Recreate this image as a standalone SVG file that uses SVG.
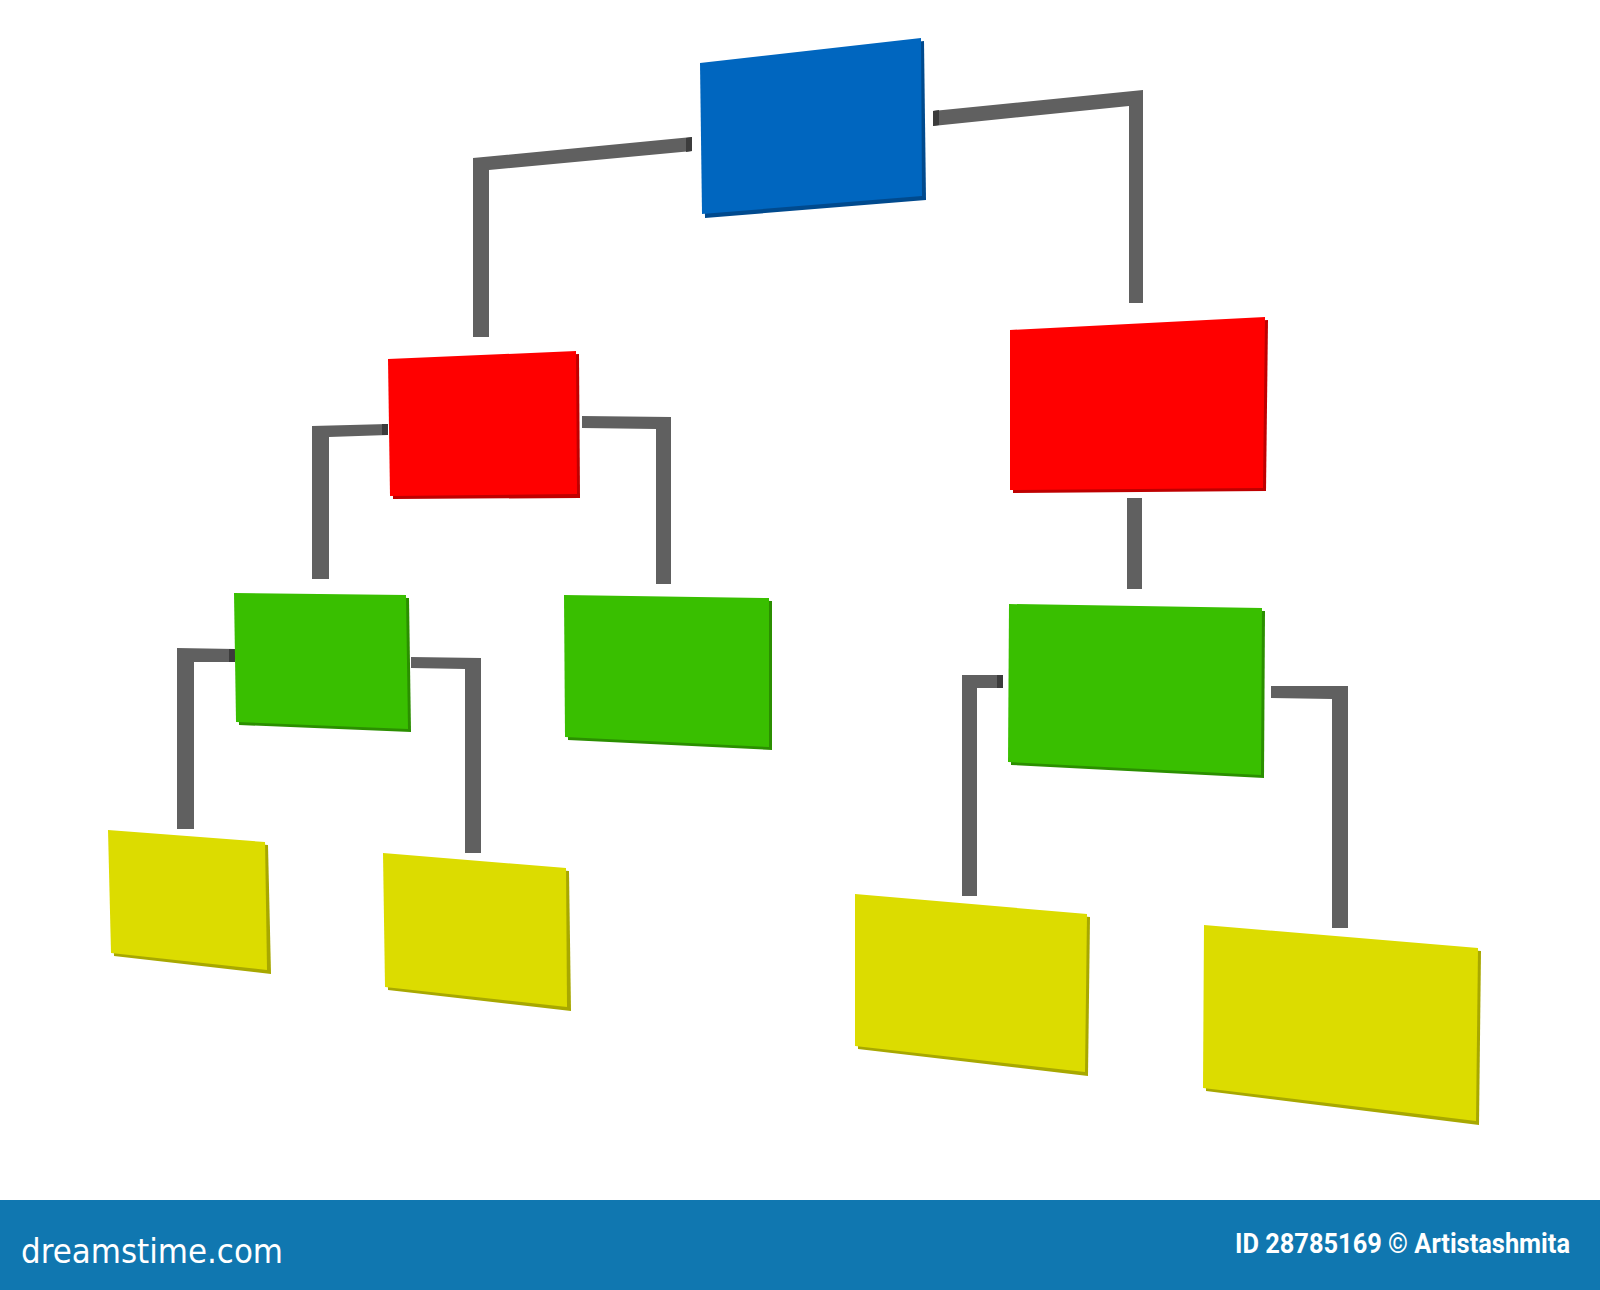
<svg xmlns="http://www.w3.org/2000/svg" width="1600" height="1290" viewBox="0 0 1600 1290">
  <style>
    .bar { fill: #606060; }
    .cap { fill: #3c3c3c; }
    .blue { fill: #0066bf; }
    .blue-s { fill: #004a8e; }
    .red { fill: #ff0000; }
    .red-s { fill: #bf0000; }
    .green { fill: #39bf00; }
    .green-s { fill: #2b8f00; }
    .yellow { fill: #dcdc00; }
    .yellow-s { fill: #a8a800; }
    .banner { fill: #1077b0; }
    .logo { font-family: "DejaVu Sans", "Liberation Sans", sans-serif; font-size: 34px; fill: #ffffff; }
    .credit { font-family: Roboto, "Liberation Sans", sans-serif; font-weight: bold; font-size: 27px; fill: #ffffff; }
  </style>
  <rect x="0" y="0" width="1600" height="1290" fill="#ffffff"/>

  <g id="connectors">
    <polygon class="bar" points="473,158 692,137 692,151 489,170 489,337 473,337"/>
    <polygon class="cap" points="686,138 692,137 692,151 686,152"/>
    <polygon class="bar" points="933,111 1143,90 1143,303 1129,303 1129,106 933,126"/>
    <polygon class="cap" points="933,111 939,110 939,125 933,126"/>
    <polygon class="bar" points="388,424 312,426 312,579 329,579 329,437 388,435"/>
    <polygon class="cap" points="382,424 388,424 388,435 382,435"/>
    <polygon class="bar" points="582,416 671,417 671,584 656,584 656,429 582,428"/>
    <rect class="bar" x="1127" y="498" width="15" height="91"/>
    <polygon class="bar" points="235,649 177,648 177,829 194,829 194,662 235,662"/>
    <polygon class="cap" points="229,649 235,649 235,662 229,662"/>
    <polygon class="bar" points="411,657 481,658 481,853 465,853 465,669 411,668"/>
    <polygon class="bar" points="1003,675 962,675 962,896 977,896 977,688 1003,688"/>
    <polygon class="cap" points="997,675 1003,675 1003,688 997,688"/>
    <polygon class="bar" points="1271,686 1348,686 1348,928 1332,928 1332,699 1271,698"/>
  </g>

  <g id="node-top">
    <polygon class="blue-s" points="703,66 924,41 926,200 705,218"/>
    <polygon class="blue" points="700,63 921,38 922,196 702,214"/>
  </g>

  <g id="node-red-left">
    <polygon class="red-s" points="391,362 579,354 580,498 393,499"/>
    <polygon class="red" points="388,359 576,351 577,494 390,496"/>
  </g>

  <g id="node-red-right">
    <polygon class="red-s" points="1013,332 1268,320 1266,491 1013,493"/>
    <polygon class="red" points="1010,330 1265,317 1263,488 1010,490"/>
  </g>

  <g id="node-green-1">
    <polygon class="green-s" points="237,596 409,598 411,732 239,725"/>
    <polygon class="green" points="234,593 406,595 408,729 236,722"/>
  </g>

  <g id="node-green-2">
    <polygon class="green-s" points="567,598 772,601 772,750 568,740"/>
    <polygon class="green" points="564,595 769,598 769,747 565,737"/>
  </g>

  <g id="node-green-3">
    <polygon class="green-s" points="1012,607 1265,611 1264,778 1011,765"/>
    <polygon class="green" points="1009,604 1262,608 1261,775 1008,762"/>
  </g>

  <g id="node-yellow-1">
    <polygon class="yellow-s" points="111,833 268,845 271,974 114,956"/>
    <polygon class="yellow" points="108,830 265,842 267,970 111,953"/>
  </g>

  <g id="node-yellow-2">
    <polygon class="yellow-s" points="386,856 569,871 571,1011 388,990"/>
    <polygon class="yellow" points="383,853 566,868 567,1007 385,987"/>
  </g>

  <g id="node-yellow-3">
    <polygon class="yellow-s" points="858,897 1090,917 1088,1076 858,1049"/>
    <polygon class="yellow" points="855,894 1087,914 1085,1072 855,1046"/>
  </g>

  <g id="node-yellow-4">
    <polygon class="yellow-s" points="1207,928 1481,951 1479,1125 1206,1091"/>
    <polygon class="yellow" points="1204,925 1478,948 1476,1121 1203,1088"/>
  </g>

  <g id="banner">
    <rect class="banner" x="0" y="1200" width="1600" height="90"/>
    <text class="logo" x="21" y="1263" textLength="262" lengthAdjust="spacingAndGlyphs">dreamstime.com</text>
    <text class="credit" x="1235" y="1253" textLength="335" lengthAdjust="spacingAndGlyphs">ID 28785169 © Artistashmita</text>
  </g>
</svg>
